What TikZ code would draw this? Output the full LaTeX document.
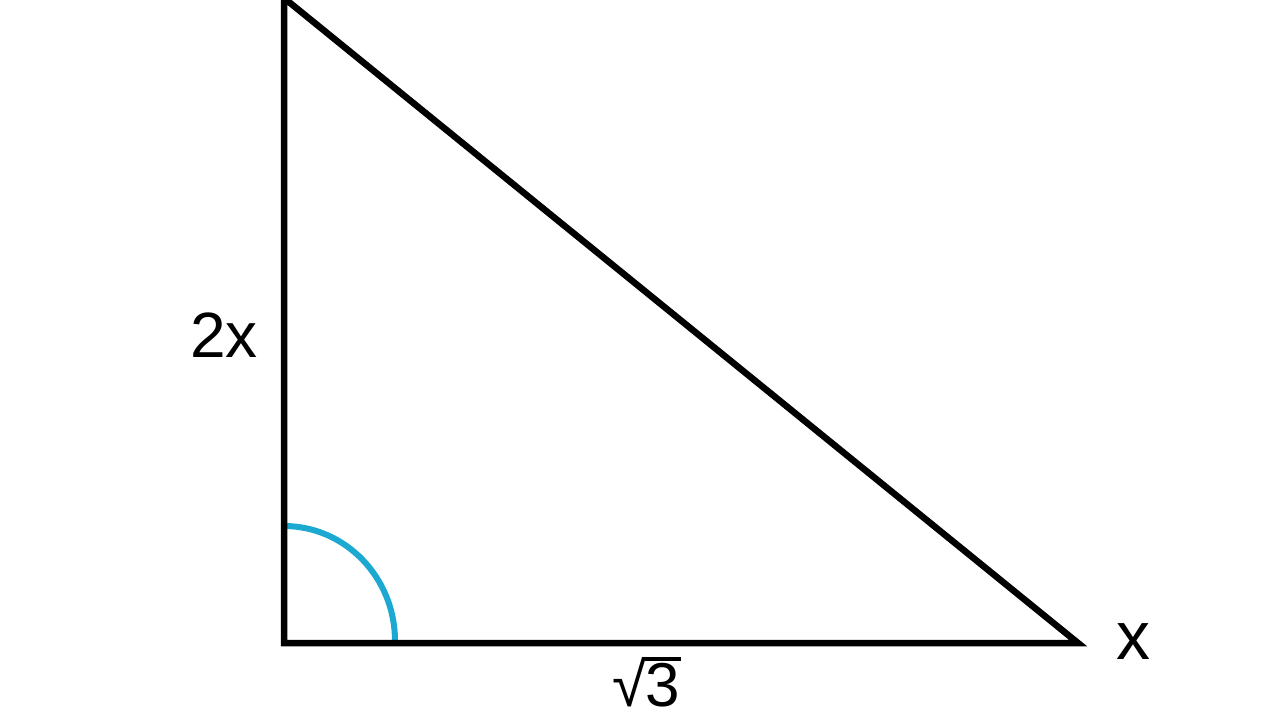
\documentclass[tikz,border=0pt]{standalone}
\usepackage{fontspec}
\setmainfont{Liberation Sans}
\definecolor{arcblue}{RGB}{27,169,210}
\tikzset{
  side/.style={line width=6.5pt, line join=miter, line cap=butt},
  anglearc/.style={line width=6pt, draw=arcblue},
  lbl/.style={font=\fontsize{64}{64}\selectfont, inner sep=0pt}
}
\begin{document}
\begin{tikzpicture}[x=1pt,y=-1pt]
\useasboundingbox (0,0) rectangle (1280,720);
\fill[white] (0,0) rectangle (1280,720);
\coordinate (A) at (284,-2);
\coordinate (B) at (284,643);
\coordinate (C) at (1078,643);
\draw[anglearc] (284,641) ++(111,0) arc[start angle=0, end angle=-90, x radius=111, y radius=115];
\draw[side] (A) -- (B) -- (C) -- cycle;
\node[lbl] (L2x) at (224,335) {2x};
\node[lbl, font=\fontsize{68}{68}\selectfont] (Lx) at (1133,642) {x};
\node[lbl, anchor=north, font=\fontsize{62}{62}\selectfont] (Ls) at (647,657) {√\kern-2pt\vbox{\hrule height 4pt width 36pt\kern2pt\hbox{3}}};
\end{tikzpicture}
\end{document}
